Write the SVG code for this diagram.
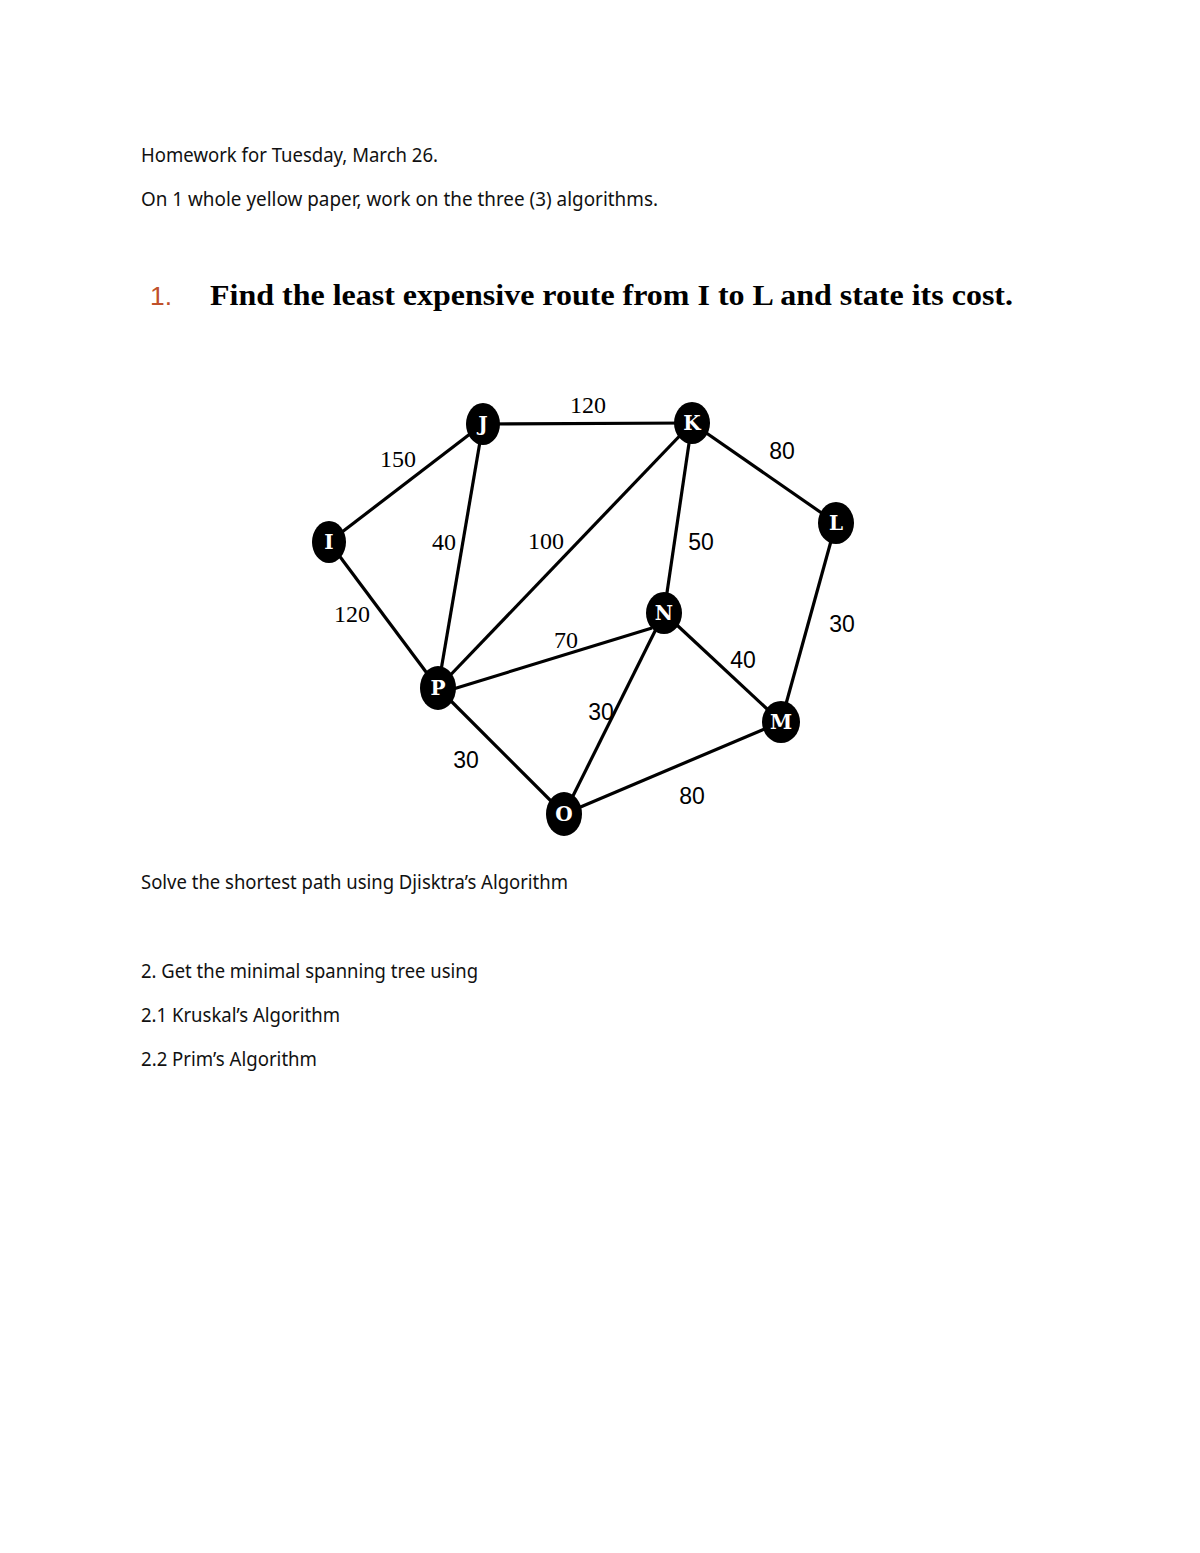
<svg xmlns="http://www.w3.org/2000/svg" width="1200" height="1553" viewBox="0 0 1200 1553">
<style>
.t{font-family:"Noto Sans","Open Sans","Liberation Sans",sans-serif;font-size:19px;fill:#111}
.h{font-family:"Liberation Serif","DejaVu Serif",serif;font-size:30px;font-weight:bold;fill:#000}
.n{fill:#000}
.nl{font-family:"DejaVu Serif","Liberation Serif",serif;font-weight:bold;font-size:20px;fill:#fff;text-anchor:middle}
.ls{font-family:"Liberation Serif","DejaVu Serif",serif;font-size:24px;fill:#000;text-anchor:middle}
.la{font-family:"Liberation Sans","DejaVu Sans",sans-serif;font-size:23px;fill:#000;text-anchor:middle}
.e{stroke:#000;stroke-width:3.2;fill:none}
</style>
<rect width="1200" height="1553" fill="#fff"/>
<text class="t" x="141" y="162" textLength="297" lengthAdjust="spacingAndGlyphs">Homework for Tuesday, March 26.</text>
<text class="t" x="141" y="206" textLength="517" lengthAdjust="spacingAndGlyphs">On 1 whole yellow paper, work on the three (3) algorithms.</text>
<text x="150" y="305" style="font-family:'Liberation Sans',sans-serif;font-size:25px;fill:#c0502a" textLength="22" lengthAdjust="spacingAndGlyphs">1.</text>
<text class="h" x="210" y="305" textLength="803" lengthAdjust="spacingAndGlyphs">Find the least expensive route from I to L and state its cost.</text>
<g id="connectors">
<line class="e" x1="329" y1="542" x2="483" y2="424"/>
<line class="e" x1="483" y1="424" x2="692" y2="423"/>
<line class="e" x1="692" y1="423" x2="836" y2="523"/>
<line class="e" x1="329" y1="542" x2="438" y2="688"/>
<line class="e" x1="483" y1="424" x2="438" y2="688"/>
<line class="e" x1="692" y1="423" x2="438" y2="688"/>
<line class="e" x1="692" y1="423" x2="664" y2="613"/>
<line class="e" x1="450" y1="690" x2="652" y2="628"/>
<line class="e" x1="438" y1="688" x2="564" y2="814"/>
<line class="e" x1="664" y1="613" x2="564" y2="814"/>
<line class="e" x1="664" y1="613" x2="781" y2="722"/>
<line class="e" x1="836" y1="523" x2="781" y2="722"/>
<line class="e" x1="564" y1="814" x2="781" y2="722"/>
</g>
<g id="edge-labels">
<text class="ls" x="588" y="413">120</text>
<text class="ls" x="398" y="467">150</text>
<text class="la" x="782" y="459">80</text>
<text class="ls" x="444" y="550">40</text>
<text class="ls" x="546" y="549">100</text>
<text class="la" x="701" y="550">50</text>
<text class="ls" x="352" y="622">120</text>
<text class="ls" x="566" y="648">70</text>
<text class="la" x="842" y="632">30</text>
<text class="la" x="743" y="668">40</text>
<text class="la" x="601" y="720">30</text>
<text class="la" x="466" y="768">30</text>
<text class="la" x="692" y="804">80</text>
</g>
<g id="node-I"><ellipse class="n" cx="329" cy="542" rx="17" ry="21"/><text class="nl" x="329" y="549">I</text></g>
<g id="node-J"><ellipse class="n" cx="483" cy="424" rx="17" ry="21"/><text class="nl" x="483" y="431">J</text></g>
<g id="node-K"><ellipse class="n" cx="692" cy="423" rx="18" ry="21"/><text class="nl" x="692" y="430">K</text></g>
<g id="node-L"><ellipse class="n" cx="836" cy="523" rx="18" ry="21"/><text class="nl" x="836" y="530">L</text></g>
<g id="node-N"><ellipse class="n" cx="664" cy="613" rx="18" ry="21"/><text class="nl" x="664" y="620">N</text></g>
<g id="node-P"><ellipse class="n" cx="438" cy="688" rx="18" ry="22"/><text class="nl" x="438" y="695">P</text></g>
<g id="node-M"><ellipse class="n" cx="781" cy="722" rx="19" ry="21"/><text class="nl" x="781" y="729">M</text></g>
<g id="node-O"><ellipse class="n" cx="564" cy="814" rx="18" ry="22"/><text class="nl" x="564" y="821">O</text></g>
<text class="t" x="141" y="889" textLength="427" lengthAdjust="spacingAndGlyphs">Solve the shortest path using Djisktra’s Algorithm</text>
<text class="t" x="141" y="978" textLength="337" lengthAdjust="spacingAndGlyphs">2. Get the minimal spanning tree using</text>
<text class="t" x="141" y="1022" textLength="199" lengthAdjust="spacingAndGlyphs">2.1 Kruskal’s Algorithm</text>
<text class="t" x="141" y="1066" textLength="176" lengthAdjust="spacingAndGlyphs">2.2 Prim’s Algorithm</text>
</svg>
